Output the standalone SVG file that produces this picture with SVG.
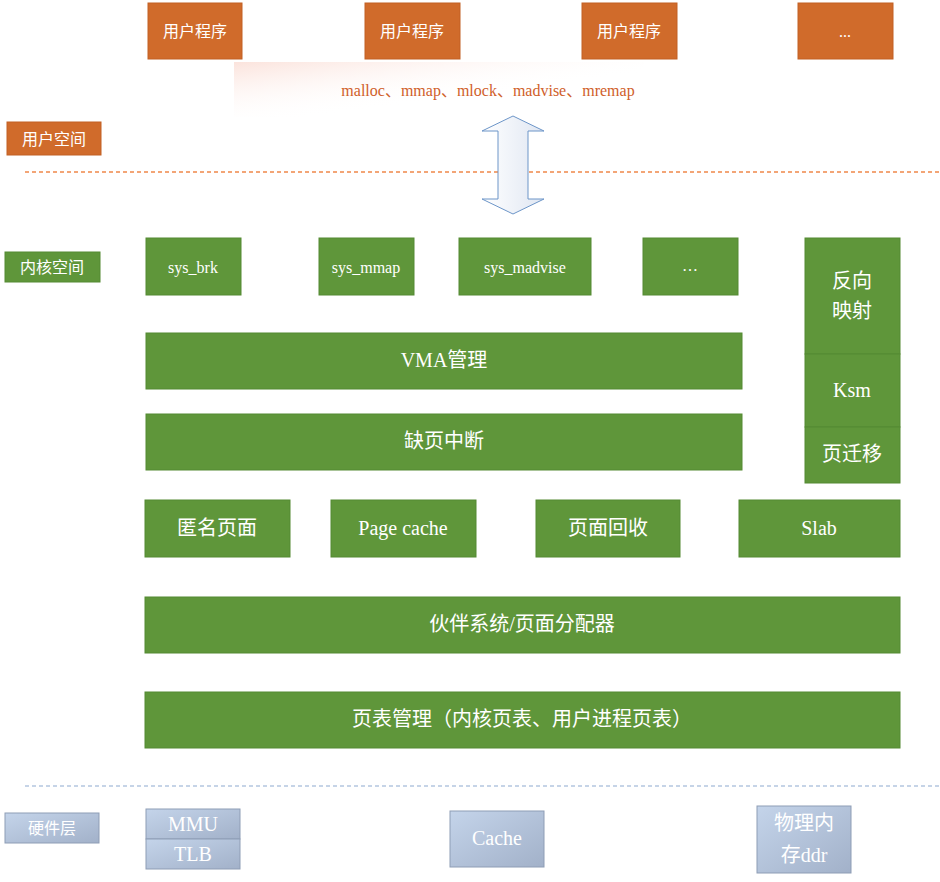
<svg xmlns="http://www.w3.org/2000/svg" width="940" height="882" viewBox="0 0 940 882">
<defs>
<linearGradient id="band" x1="0" y1="0" x2="1" y2="1"><stop offset="0" stop-color="#fbe3dc"/><stop offset="0.6" stop-color="#ffffff" stop-opacity="0"/></linearGradient>
<linearGradient id="blue" x1="0" y1="0" x2="1" y2="1"><stop offset="0" stop-color="#c4d4ea"/><stop offset="1" stop-color="#a2b1c9"/></linearGradient>
<linearGradient id="arr" x1="0" y1="0" x2="1" y2="0"><stop offset="0" stop-color="#ffffff"/><stop offset="1" stop-color="#dfe6f2"/></linearGradient>
<style>
.o{fill:#d06b2b;stroke:#c26025;stroke-width:1}
.g{fill:#5f963a;stroke:#548a33;stroke-width:1}
.b{fill:url(#blue);stroke:#8e9db5;stroke-width:1}
.t{font-family:"Liberation Serif","Noto Sans CJK SC",serif;fill:#fff;text-anchor:middle;dominant-baseline:central}
.s{font-size:16px}.m{font-size:20px}
</style>
</defs>
<g id="user-programs">
<g id="u1"><rect class="o" x="148" y="3" width="94" height="56"/><text class="t s" x="195" y="31">用户程序</text></g>
<g id="u2"><rect class="o" x="365" y="3" width="95" height="56"/><text class="t s" x="412" y="31">用户程序</text></g>
<g id="u3"><rect class="o" x="582" y="3" width="95" height="56"/><text class="t s" x="629" y="31">用户程序</text></g>
<g id="u4"><rect class="o" x="798" y="3" width="95" height="56"/><text class="t s" x="845" y="31">...</text></g>
</g>
<g id="api"><rect x="234" y="62" width="410" height="55" fill="url(#band)"/><text class="t s" x="488" y="90" style="fill:#d0602a">malloc、mmap、mlock、madvise、mremap</text></g>
<g id="userspace"><rect class="o" x="7" y="122" width="94" height="33"/><text class="t s" x="54" y="139">用户空间</text></g>
<g id="connectors">
<line x1="25" y1="172" x2="940" y2="172" stroke="#f0884a" stroke-width="1.5" stroke-dasharray="4,3"/>
<line x1="25" y1="786" x2="940" y2="786" stroke="#b4c6e0" stroke-width="1.5" stroke-dasharray="4,3"/>
<path d="M513,116 L544,131 L528,131 L528,199 L544,199 L513,214 L482,199 L498,199 L498,131 L482,131 Z" fill="url(#arr)" stroke="#6c95c8" stroke-width="1"/>
</g>
<g id="kernelspace"><rect class="g" x="5" y="252" width="95" height="30"/><text class="t s" x="52" y="267">内核空间</text></g>
<g id="sys_brk"><rect class="g" x="146" y="238" width="95" height="57"/><text class="t s" x="193" y="267">sys_brk</text></g>
<g id="sys_mmap"><rect class="g" x="319" y="238" width="95" height="57"/><text class="t s" x="366" y="267">sys_mmap</text></g>
<g id="sys_madvise"><rect class="g" x="459" y="238" width="132" height="57"/><text class="t s" x="525" y="267">sys_madvise</text></g>
<g id="sys_more"><rect class="g" x="643" y="238" width="95" height="57"/><text class="t s" x="690" y="265">…</text></g>
<g id="rmap"><rect class="g" x="805" y="238" width="95" height="116"/><text class="t m" x="852" y="281">反向</text><text class="t m" x="852" y="311">映射</text></g>
<g id="ksm"><rect class="g" x="805" y="354" width="95" height="73"/><text class="t m" x="852" y="390">Ksm</text></g>
<g id="migrate"><rect class="g" x="805" y="427" width="95" height="56"/><text class="t m" x="852" y="454">页迁移</text></g>
<g id="vma"><rect class="g" x="146" y="333" width="596" height="56"/><text class="t m" x="444" y="360">VMA管理</text></g>
<g id="fault"><rect class="g" x="146" y="414" width="596" height="56"/><text class="t m" x="444" y="441">缺页中断</text></g>
<g id="anon"><rect class="g" x="145" y="500" width="145" height="57"/><text class="t m" x="217" y="528">匿名页面</text></g>
<g id="pagecache"><rect class="g" x="331" y="500" width="145" height="57"/><text class="t m" x="403" y="528">Page cache</text></g>
<g id="reclaim"><rect class="g" x="536" y="500" width="144" height="57"/><text class="t m" x="608" y="528">页面回收</text></g>
<g id="slab"><rect class="g" x="739" y="500" width="161" height="57"/><text class="t m" x="819" y="528">Slab</text></g>
<g id="buddy"><rect class="g" x="145" y="597" width="755" height="56"/><text class="t m" x="522" y="624">伙伴系统/页面分配器</text></g>
<g id="pgtable"><rect class="g" x="145" y="692" width="755" height="56"/><text class="t m" x="522" y="719">页表管理（内核页表、用户进程页表）</text></g>
<g id="hw"><rect class="b" x="5" y="813" width="94" height="30"/><text class="t s" x="52" y="828">硬件层</text></g>
<g id="mmu"><rect class="b" x="146" y="809" width="94" height="30"/><text class="t m" x="193" y="824">MMU</text></g>
<g id="tlb"><rect class="b" x="146" y="839" width="94" height="30"/><text class="t m" x="193" y="854">TLB</text></g>
<g id="cache"><rect class="b" x="450" y="811" width="94" height="56"/><text class="t m" x="497" y="838">Cache</text></g>
<g id="ddr"><rect class="b" x="757" y="806" width="94" height="67"/><text class="t m" x="804" y="823">物理内</text><text class="t m" x="804" y="855">存ddr</text></g>
</svg>
